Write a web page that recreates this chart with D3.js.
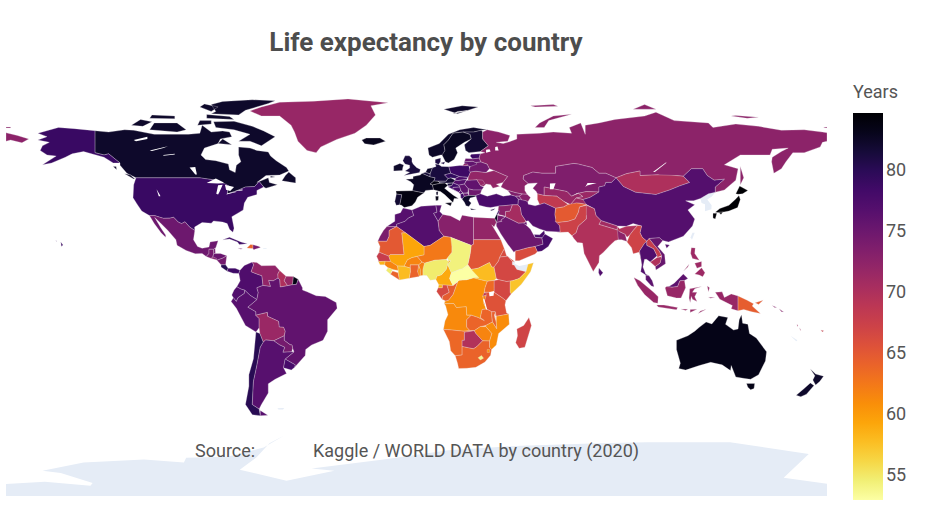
<!DOCTYPE html>
<html>
<head>
<meta charset="utf-8">
<script src="https://d3js.org/d3.v7.min.js"></script>
<style>
  body { margin: 0; background: #fff; }
  text { font-family: Roboto, sans-serif; }
</style>
</head>
<body>
<svg id="chart" width="934" height="528"></svg>
<script>
// life expectancy, grouped by region (names and years line up)
const americaNames = ["Canada", "United States", "Alaska", "Mexico", "Guatemala", "Belize", "Honduras", "El Salvador", "Nicaragua", "Costa Rica", "Panama", "Cuba", "Haiti", "Dominican Republic", "Jamaica", "Colombia", "Venezuela", "Guyana", "Suriname", "French Guiana", "Brazil", "Ecuador", "Peru", "Bolivia", "Paraguay", "Chile", "Argentina", "Uruguay", "Greenland"];
const americaYears = [82.3, 78.9, 78.9, 75, 74.3, 74.6, 75.3, 73.3, 74.5, 80.3, 78.5, 78.8, 64, 74.1, 74.5, 77.3, 72.1, 69.9, 71.7, 83.5, 75.9, 77, 76.7, 71.5, 74.3, 80.2, 76.7, 77.9, 71.7];

const europeNames = ["Iceland", "Norway", "Sweden", "Finland", "Denmark", "United Kingdom", "Ireland", "France", "Spain", "Portugal", "Belgium", "Netherlands", "Germany", "Switzerland", "Austria", "Italy", "Poland", "Czechia", "Slovakia", "Hungary", "Romania", "Bulgaria", "Slovenia", "Croatia", "Bosnia", "Serbia", "Montenegro", "Albania", "North Macedonia", "Greece", "Cyprus", "Ukraine", "Moldova", "Belarus", "Lithuania", "Latvia", "Estonia", "Russia"];
const europeYears = [83, 82.4, 82.8, 81.9, 81, 81.3, 82.3, 82.7, 83.6, 81.9, 81.6, 82.3, 81.3, 83.8, 81.7, 83.5, 78.7, 79.4, 77.5, 76.9, 75.9, 75, 81.3, 78.5, 77.4, 76, 77, 78.6, 75.8, 82.2, 81, 72, 71.9, 74.8, 75.9, 75.3, 78.7, 72.6];

const asiaNames = ["Turkey", "Georgia", "Armenia", "Azerbaijan", "Kazakhstan", "Uzbekistan", "Turkmenistan", "Kyrgyzstan", "Tajikistan", "Mongolia", "China", "Japan", "Iran", "Iraq", "Syria", "Israel", "Jordan", "Lebanon", "Saudi Arabia", "Kuwait", "United Arab Emirates", "Oman", "Yemen", "Afghanistan", "Pakistan", "India", "Nepal", "Bangladesh", "Sri Lanka", "Myanmar", "Thailand", "Laos", "Vietnam", "Cambodia", "Malaysia", "Indonesia", "Philippines"];
const asiaYears = [77.7, 73.6, 75.1, 73, 73.6, 71.7, 68.2, 71.5, 71.1, 69.9, 76.9, 84.6, 76.7, 70.6, 72.7, 83, 74.5, 78.9, 75.1, 75.5, 78, 77.9, 66.1, 64.8, 67.3, 69.7, 70.8, 72.6, 77, 67.1, 77.2, 67.9, 75.4, 69.8, 76.2, 71.7, 71.2];

const africaNames = ["Morocco", "Western Sahara", "Algeria", "Tunisia", "Libya", "Egypt", "Sudan", "South Sudan", "Eritrea", "Ethiopia", "Somalia", "Kenya", "Uganda", "Tanzania", "Rwanda", "Burundi", "DR Congo", "Congo", "Gabon", "Equatorial Guinea", "Cameroon", "Central African Republic", "Chad", "Niger", "Nigeria", "Benin", "Togo", "Ghana", "Burkina Faso", "Mali", "Mauritania", "Senegal", "Guinea-Bissau", "Guinea", "Sierra Leone", "Liberia", "Ivory Coast", "Angola", "Zambia", "Malawi", "Mozambique", "Zimbabwe", "Namibia", "Botswana", "South Africa", "Lesotho", "Eswatini", "Madagascar"];
const africaYears = [76.7, 74, 76.9, 76.7, 72.9, 72, 65.3, 57.9, 66.3, 66.6, 57.4, 66.7, 63.4, 65.5, 69, 61.6, 60.7, 64.6, 66.5, 58.7, 58.9, 52.9, 54.2, 62.4, 54.7, 61.8, 61, 64.1, 61.6, 59.3, 64.9, 67.9, 58.3, 61.6, 54.7, 64.1, 57.8, 61.2, 63.9, 64.3, 60.9, 61.5, 63.7, 69.6, 64.1, 53.7, 60.2, 67];

const oceaniaNames = ["Australia", "New Zealand", "Papua New Guinea", "Solomon Islands", "Vanuatu", "Fiji"];
const oceaniaYears = [83.4, 82.3, 64.5, 73, 70.5, 67.5];

// no data in the source, left in the land colour
const noDataNames = ["Antarctica", "Korea", "Taiwan", "Somaliland", "Djibouti", "Falkland Islands", "Puerto Rico", "New Caledonia"];

const tickValues = [55, 60, 65, 70, 75, 80];
const colorRange = [52.95, 84.67];

// country outlines, lon,lat pairs, "|" starts another ring
const outlines = {
  "Canada": "-141,69.6 -135,69 -128,70 -124,69.8 -115,68 -108,68 -100,68 -95,68.5 -94,72 -90,69 -85,69.5 -82,69 -81,67 -86,66 -87,64 -93,62 -94.5,59 -92.5,57 -88,56.5 -82.5,55 -82,52.5 -79.5,51.3 -79,54.5 -77,56 -78,59 -78,62.5 -73,62 -70,61 -65,60.3 -64,58.5 -61.5,56.5 -57,53.5 -56,52 -60,50.2 -66,50 -70,47 -65,49 -64.5,47 -61,46 -66,44.5 -67,45 -69,47.4 -71,45.2 -75,45 -79,43.3 -83,42 -82.5,45.5 -88,48 -95,49 -123,49 -127,51 -130,54.5 -130,55.5 -135,59.5 -137,59 -141,60|-62,67 -68,63 -73,65 -78,65 -73,68 -80,70 -88,71 -89,73.5 -80,73.7 -72,71.5 -67,69.5|-117,70 -105,69 -101,70 -105,73 -115,73|-125,72 -120,71.5 -116,73.5 -121,74.5|-90,77 -78,76.5 -75,78.5 -65,81.5 -62,82.7 -72,83.1 -85,82.4 -90,81 -88,78|-92,75 -80,74.5 -82,75.8 -92,76.7|-95,80 -90,78 -87,80 -93,81.3|-117,75 -106,74.8 -106,76 -116,76.5|-96,72 -90,72.5 -90,74 -95,74|-59,47.7 -53,46.7 -53,49 -56,51.5 -57.5,50|-87,64 -81,63.5 -85,66|-128,50.8 -124,48.5 -123.5,48.5 -125.5,50.3|-64,49.8 -62,49.4 -64,49.2|-133,54 -131.7,54 -131.5,52.5",
  "United States": "-123,49 -95,49 -88,48 -83,46 -82.5,45.5 -83,42 -79,43.3 -75,45 -71,45.2 -69,47.4 -67,45 -70,43.5 -70,41.7 -74,40.5 -75.5,38 -76,35 -78,33.8 -81,32 -80,27 -80.5,25.2 -82,26.5 -83,29 -85,29.7 -89,30.2 -90,29.2 -94,29.5 -97.3,27.5 -97.2,26 -99.5,27.5 -101.5,29.8 -103,29 -104.5,29.7 -106.5,31.8 -108.2,31.4 -111,31.3 -114.8,32.5 -117.1,32.5 -120.5,34.5 -122.5,37.5 -124.3,40.3 -124,46|-156,21 -155,19.7 -155.7,19|-158.2,21.6 -157.7,21.3 -158,21.3",
  "Alaska": "-141,69.6 -141,60 -137,59 -135,59.5 -130,55.5 -133,55.5 -137,58 -146,60.5 -151,59.5 -154,58 -160,55.5 -164,54.7 -158,58.5 -162,59 -165,61 -164,63 -161,64.5 -166,65.5 -162,67 -166,68.5 -157,71 -150,70.5",
  "Mexico": "-117.1,32.5 -114.8,32.5 -111,31.3 -108.2,31.4 -106.5,31.8 -104.5,29.7 -103,29 -101.5,29.8 -99.5,27.5 -97.2,26 -97.8,22 -96,19 -94,18.2 -91,18.8 -90.5,21 -87,21.5 -88,18.5 -89,17.8 -91,17.8 -91,16 -92.2,14.6 -94,16 -97,15.8 -101,17.3 -105,19.5 -105.5,22 -109,26 -112.5,29.5 -114.8,31.7 -112,27 -110,24 -110,23 -112,25 -115,29",
  "Guatemala": "-92.2,14.6 -91,16 -91,17.8 -89,17.8 -88.9,15.9 -89.3,14.5 -90,13.8",
  "Belize": "-89,17.8 -88.3,18.4 -88.2,16 -88.9,15.9",
  "Honduras": "-88.9,15.9 -86,16 -83.2,15 -84.8,14 -87.5,13 -89.3,14.5",
  "El Salvador": "-89.3,14.5 -87.7,13.8 -87.8,13.2 -90,13.8",
  "Nicaragua": "-83.2,15 -83.7,11 -85.7,11 -87.5,13 -84.8,14",
  "Costa Rica": "-85.7,11 -83.7,11 -82.6,9.5 -83,8.2 -85.7,10",
  "Panama": "-83,8.2 -82.6,9.5 -79.5,9.5 -77.4,8.6 -77.9,7.2 -80.4,7.3",
  "Cuba": "-85,21.9 -82,23.1 -77,21 -74.2,20.2 -77.7,19.9 -78.5,21 -82,22.3",
  "Haiti": "-74.4,18.3 -72.8,19.9 -71.7,19.8 -71.7,18.1",
  "Dominican Republic": "-71.7,19.8 -69,19 -68.4,18.6 -71.4,17.6 -71.7,18.1",
  "Jamaica": "-78.3,18.3 -76.3,18 -77,17.8",
  "Puerto Rico": "-67.2,18.4 -65.7,18.4 -65.8,18 -67.2,18",
  "Colombia": "-77.4,8.6 -75.5,10.7 -72,12.2 -71.4,11 -72.5,8 -70,7 -67.8,6.2 -67.5,3.8 -67.3,2 -70,1 -69.4,-1.1 -70,-4.2 -73,-2.3 -75.3,-0.1 -77,0.4 -78.8,1.4 -77.3,4 -77.9,7.2",
  "Venezuela": "-71.4,11 -72,12.2 -70,12 -68,10.6 -62,10.7 -60,8.5 -60.8,7 -60.7,5.2 -62.8,4 -64.8,4.2 -64,1.5 -67.3,2 -67.5,3.8 -67.8,6.2 -70,7 -72.5,8",
  "Guyana": "-60,8.5 -57.2,6 -58,4 -56.5,1.9 -59.8,1.3 -60,4.5 -60.7,5.2 -60.8,7",
  "Suriname": "-57.2,6 -54,5.9 -54.2,3.5 -54.5,2.3 -56.5,1.9 -58,4",
  "French Guiana": "-54,5.9 -51.9,4.7 -52.6,2.5 -54.5,2.3 -54.2,3.5",
  "Brazil": "-51.9,4.7 -50,1 -50,0 -48,-0.8 -44,-2.5 -40,-2.8 -35.2,-5.5 -34.8,-8 -39,-13 -39,-18 -41,-22 -46,-24 -48.6,-26 -48.8,-28.6 -53.4,-33.7 -53.2,-32.7 -57.6,-30.2 -53.7,-27 -54.3,-25.5 -54.6,-24 -55.4,-23.9 -58,-22 -58,-20 -57.6,-18 -58.3,-16.3 -60.2,-16.2 -60.5,-13.7 -65.3,-11.5 -65.4,-9.8 -70.5,-11 -70.5,-9.5 -74,-7.5 -70,-4.2 -69.4,-1.1 -70,1 -67.3,2 -64,1.5 -64.8,4.2 -62.8,4 -60.7,5.2 -60,4.5 -59.8,1.3 -56.5,1.9 -54.5,2.3 -52.6,2.5",
  "Ecuador": "-78.8,1.4 -77,0.4 -75.3,-0.1 -75.5,-1.5 -78.3,-3.4 -79,-5 -80.3,-3.4 -81,-2.2 -80,0",
  "Peru": "-75.3,-0.1 -73,-2.3 -70,-4.2 -74,-7.5 -70.5,-9.5 -70.5,-11 -69,-12.5 -69,-16.5 -70.4,-18.3 -75,-15.5 -79,-8 -81.3,-5 -80.3,-3.4 -79,-5 -78.3,-3.4 -75.5,-1.5",
  "Bolivia": "-69,-12.5 -70.5,-11 -65.4,-9.8 -65.3,-11.5 -60.5,-13.7 -60.2,-16.2 -58.3,-16.3 -57.6,-18 -58,-20 -62.6,-22.2 -66.2,-21.8 -67.2,-22.8 -68.7,-19 -69,-16.5",
  "Paraguay": "-58,-20 -58,-22 -55.4,-23.9 -54.6,-24 -54.3,-25.5 -54.7,-27 -58.6,-27.2 -57.8,-25 -60,-24 -62.6,-22.2",
  "Chile": "-70.4,-18.3 -68.7,-19 -67.2,-22.8 -68.5,-25 -70,-33 -71.5,-40 -72,-50 -69,-52 -68.5,-54.9 -72,-54.5 -75,-50 -73.5,-42 -73.5,-37 -71.5,-30",
  "Argentina": "-66.2,-21.8 -62.6,-22.2 -60,-24 -57.8,-25 -58.6,-27.2 -54.7,-27 -53.7,-27 -57.6,-30.2 -58.3,-34 -57,-36.5 -62,-39 -65,-41 -65,-45 -68,-50 -69,-52 -72,-50 -71.5,-40 -70,-33 -68.5,-25 -67.2,-22.8|-68.5,-52.6 -65.2,-54.7 -68.5,-54.9",
  "Uruguay": "-57.6,-30.2 -53.2,-32.7 -53.4,-33.7 -54.9,-35 -58.3,-34",
  "Falkland Islands": "-61,-51.7 -58,-51.5 -58.5,-52.2 -60.5,-52.2",
  "Greenland": "-73,78.2 -68,80 -60,82 -45,82.5 -30,83.5 -12.5,81.8 -20,80.5 -18,76.5 -22,72 -27,68.5 -35,65.8 -42,62.5 -44,60 -48,61 -52,65 -53.5,69 -55,72 -60,76 -68,76",
  "Iceland": "-24,65.5 -22,66.4 -16,66.4 -13.6,65 -18.8,63.4 -22.7,63.9",
  "Norway": "5,62 5.5,59 7,58 10.5,59 11.5,59 12.5,61 12,63.5 14,65.5 16,68.5 20,69 25,69 28.5,69.8 31,70 25,71 19,70 14,68 10,64|12,79 20,80.5 27,80 18,77|16,77 23,78.5 18,78",
  "Sweden": "11.2,59 12.7,56 14,55.5 16.5,57 18,60 17.2,62 21,64.5 24,66 23.5,68 20.5,69 16,68.5 14,65.5 12,63.5 12.5,61",
  "Finland": "23,60 28,60.5 31.5,63 29,66 29,69 28.5,69.8 25,69 20.5,69 23.5,68 24,66 21,63.5 21.5,61",
  "Denmark": "8.2,55.5 8.2,57 10.6,57.7 10.5,56 9.7,54.8|10.5,55.5 12.5,56 12,54.9",
  "United Kingdom": "-5.5,50 1.3,51.3 1.7,52.7 0,53.5 -1.5,55 -2,56 -2,57.6 -3.2,58.6 -5,58.6 -6,56.5 -5,55 -3,54.5 -3,53.3 -5,52 -3,51.4",
  "Ireland": "-10,52 -6.2,52.2 -6,53.5 -5.6,54.6 -7.3,55.3 -10,54.2",
  "France": "-1.8,43.4 3.2,42.4 4,43.5 7.5,43.8 7,45.9 6,46.3 7.6,47.6 8.2,49 5.9,49.5 2.5,51 1.6,50.2 -1.5,49.6 -1.5,48.6 -4.7,48.4 -2.5,47.3 -1.2,46|8.6,42.8 9.5,43 9.3,41.4 8.7,41.6",
  "Spain": "-9,43.2 -1.8,43.4 3.2,42.4 0.5,40.5 -0.5,38.5 -2,36.8 -5.4,36 -6.5,37 -7.4,37.2 -7,39 -6.5,41.6 -8.8,41.9",
  "Portugal": "-8.8,41.9 -6.5,41.6 -7,39 -7.4,37.2 -8.9,37 -9.5,38.7",
  "Belgium": "2.5,51 4,51.4 6,50.8 5.9,49.5",
  "Netherlands": "4,51.4 4.8,53 7,53.4 6,50.8",
  "Germany": "7,53.4 8.6,54 8.2,55 9.7,54.8 11,54 14.2,53.9 15,51 12.3,50.3 13.8,48.7 13,47.5 7.6,47.6 8.2,49 5.9,49.5 6,50.8",
  "Switzerland": "6,46.3 7,45.9 10.4,46.6 9.5,47.5 7.6,47.6",
  "Austria": "9.5,47.5 10.4,46.9 12.5,46.7 16,46.8 17,48 15,49 13.8,48.7 13,47.5",
  "Italy": "7,45.9 7.5,43.8 10.5,43 12.3,41.7 16,38.2 16.5,40 18.4,40 16,41.5 13.5,43.5 12.3,44.5 13.7,45.7 12.5,46.7 10.4,46.6|12.5,38 15.5,38.2 15,36.7|8.3,41 9.7,41 9.5,39.2 8.5,39",
  "Poland": "14.2,53.9 19,54.4 23,54.3 23.7,51.6 22.7,49.2 19,49.5 15,51",
  "Czechia": "12.3,50.3 15,51 18.8,49.6 17,48.7 15,49 13.8,48.7",
  "Slovakia": "17,48.7 18.8,49.6 19,49.5 22.5,49.2 22,48.3 18,47.8 17,48",
  "Hungary": "16,46.8 17,48 18,47.8 22,48.3 21,46.3 18.5,45.8",
  "Romania": "21,46.3 22,48 26.5,48.2 28.2,45.5 29.5,45 28.6,43.7 25,43.7 22.7,44.2",
  "Bulgaria": "22.7,44.2 25,43.7 28.6,43.7 28,42 26,41.3 23,41.3",
  "Slovenia": "13.7,45.6 13.5,46.5 16,46.8 15.5,45.6",
  "Croatia": "13.7,45.1 15.5,45.6 16,46.7 18.5,45.8 19,45 16,44.8 16,44 18.5,42.5 15,44.5",
  "Bosnia": "16,44.8 19,45 19.4,43.5 18.5,42.7 16,44",
  "Serbia": "19,45 18.5,45.8 21,46.3 22.7,44.2 22.5,42.5 20.5,42.3 19.4,43.5",
  "Montenegro": "18.5,42.5 19.4,43.5 20.2,42.5 19.3,41.9",
  "Albania": "19.3,41.9 20.5,42.3 21,40.7 20,39.7 19.4,40.5",
  "North Macedonia": "20.5,42.3 22.5,42.3 23,41.3 21,40.9",
  "Greece": "20,39.7 21,40.9 23,41.3 26,41.3 26,40.8 23.5,40.2 23,39 24,38 23,36.5 21.7,36.8 21,38.3|23.6,35.6 26.2,35.2 24,35",
  "Cyprus": "32.4,35 34.5,35.6 33.8,34.9 32.8,34.6",
  "Ukraine": "23.7,51.6 26,51.9 30.5,51.3 34,52.2 40,49.6 38,47 35,46.2 36.5,45.3 33.5,44.5 32.5,46 30.5,46.3 29.5,45.3 28.2,45.5 26.5,48.2 22.5,48 22.7,49.2",
  "Moldova": "26.5,48.2 29,48 30,46.5 28.2,45.5",
  "Belarus": "23.5,53.9 26,55.7 28.2,56 31,55 32,53 30.5,51.3 26,51.9 23.7,51.6 23,52",
  "Lithuania": "21,56 24.5,56.3 26,55.7 26.5,55 23.5,53.9 21,55.2",
  "Latvia": "21,56 21.5,57.5 24.5,57.3 27.5,57.7 28.2,56 26,55.7 24.5,56.3",
  "Estonia": "23.5,58.5 24,59.3 28,59.5 27.5,57.7 24.5,57.3",
  "Russia": "38,47 40,49.6 34,52.2 32,53 31,55 28.2,56 27.5,57.7 28,59.5 30,60 28,60.5 31.5,63 29,66 29,69 31,70 36,69 41,67.5 40,65 35,64.5 38,64 40,64.5 44,66 44,68 54,68.5 60,69 68,68.5 67,71 72,73 74,68 74,72 80,73 87,74.5 100,76 105,77.7 113,74 128,73 130,71 140,72.5 150,71.5 160,69.8 170,70 178,69 180,68.7 180,65 178,64.5 177,62.5 170,60 165,60 163.5,58 162,56 160,53 156.7,51 155.7,56 156,58 160,60.5 163,62 156,61.5 155,59 142,59 135,54.7 141,53 140,48 135,43.7 131,42.7 131,45 135,48.4 130.5,48 127.5,50 125.5,53 120.5,53 117,49.7 114,50 108,49.5 106,50.3 98,50 98,52 92,50.8 87.5,49 83,51 80,51 77,53.5 71,55 69,55.3 61,54 61,51 55,51 51,51.5 47,50 46.8,48.5 49,46.5 47.5,45.5 47.5,43.5 48.5,41.8 46.5,41.9 43.5,42.5 40,43.5 37,45|-180,68.7 -175,67.5 -170,66 -173,64.3 -178,65.5 -180,65|52,71 56,71 58,74 68,76.8 60,76 54,73|95,79 105,79 100,81|50,80.5 60,81 62,80.3 52,80|142,54 143.5,49 142,46 142,50|20,54.3 22.5,54.4 22.5,55 21,55.2|138,76 145,75 150,75.5 140,76.2|178.5,71 180,71.2 180,70.8 179,70.8|-180,71.2 -178,71.2 -178,70.8 -180,70.8",
  "Turkey": "26,41.3 28,42 31,41 35,42 38,41 41.5,41.5 43.5,41 44.7,39.7 44.5,37.2 42,37.2 38,36.8 36,36.7 35.5,36.6 32.5,36 30.5,36.3 27.5,37 26.5,39.5",
  "Georgia": "40,43.5 43.5,42.5 46.5,41.9 45,41 43.5,41 41.5,41.5",
  "Armenia": "43.5,41 45,41 46.5,39 44.7,39.7",
  "Azerbaijan": "45,41 46.5,41.9 48.5,41.8 50,40.4 48.8,38.4 48,39 46.5,39",
  "Kazakhstan": "47,50 51,51.5 55,51 61,51 61,54 69,55.3 71,55 77,53.5 80,51 83,51 87.5,49 85.5,47 83,47 82.5,45.5 80,45 80,42.8 74.5,43 70,42 68,41 66,43 61,44 56,45 56,41.3 53,42 52.5,43 51,44.5 53,46.8 49,46.5 46.8,48.5",
  "Uzbekistan": "56,45 61,44 66,43 68,41 71,42.3 73,40.8 70,40.2 67.5,37.3 64.5,38.8 61.5,41 56,41.3",
  "Turkmenistan": "53,42 56,41.3 61.5,41 64.5,38.8 66.5,37.4 64.5,36.3 61,35.7 56,38 54,37.3 53,39.5",
  "Kyrgyzstan": "70,42 74.5,43 80,42.8 76,40.4 73,39.5 70,40.2 73,40.8 71,42.3",
  "Tajikistan": "67.5,37.3 70,40.2 73,39.5 75,38.5 74.8,37.3 71.5,37.9 70,38 68,37",
  "Mongolia": "87.5,49 92,50.8 98,52 98,50 106,50.3 114,50 117,49.7 119.8,47 115.5,45.5 111,43.7 105,41.7 96,42.7 90.7,45.2",
  "China": "73,39.5 76,40.4 80,42.8 80,45 82.5,45.5 83,47 85.5,47 87.5,49 90.7,45.2 96,42.7 105,41.7 111,43.7 115.5,45.5 119.8,47 117,49.7 120.5,53 125.5,53 127.5,50 130.5,48 135,48.4 131,45 131,42.7 128,42 124.5,40 121.5,39 118,39 122,37.2 119,35 122,31 121,28 117,23.5 110.5,21 108,21.6 106.5,22.8 102,22.5 101,21.3 99,23 98,25 98.7,28 95,29 92,27.8 88,28 81,30.3 78.7,32.5 78,35.5 74.5,37.3|109,20 111,19.7 109.7,18.2",
  "Korea": "124.5,40 128,42 131,42.7 129.5,40.8 127.5,39.5 129.4,37 129.3,35.3 126.5,34.4 126.5,37.5 125,38",
  "Taiwan": "121,25 122,25 120.8,22 120.2,23",
  "Japan": "131,34 133,35.6 137,37 140,39.8 141.4,41.3 142,39.5 140.8,36 137,34.5 133,33.7|140,42 141.7,45.4 145.3,43.5 143,42 141,41.8|130,33.5 131.7,33.5 131,31 130,31.5|132.5,34 134.5,34.2 133.5,33",
  "Iran": "44.7,39.7 48,39 48.8,38.4 49,37.5 52,36.8 54,37.3 56,38 61,35.7 60.7,33 61,31.3 62.8,28 63,25.3 57,25.7 54,26.7 51,28 49,30.3 48,30 46,33 45.5,36 44.5,37.2",
  "Iraq": "42,37.2 44.5,37.2 45.5,36 46,33 48,30 47,29.3 44.7,29.2 39,32 39,34.3 41,34.5",
  "Syria": "36,36.7 38,36.8 42,37.2 41,34.5 39,34.3 39,32.2 36,33 35.8,35",
  "Israel": "34.3,31.3 35.1,33 35.6,33 35.5,31 35,29.5",
  "Jordan": "35.6,32.7 39,32 37,30.5 37.5,30 35,29.5 35.5,31",
  "Lebanon": "35.1,33 35.8,34.5 36.5,34.5 35.6,33",
  "Saudi Arabia": "35,29.5 37.5,30 37,30.5 39,32 44.7,29.2 47,29.3 48.5,28 50,26.5 51,24.7 52,23 55,22.7 55.5,20 52,19 49,18.5 45,17.4 43.3,17 42.7,16.5 40,20 37,24.5 35,28",
  "Kuwait": "47,29.3 48.2,29.8 48.5,28.5 47.5,28.6",
  "United Arab Emirates": "51.6,24.2 54,24.1 56,26 56.3,24.5 55.2,22.8 52,23",
  "Oman": "56.3,24.5 59.8,22.5 57.8,19 55,17 53,16.7 52,19 55.5,20 55,22.7",
  "Yemen": "43.3,12.8 45,12.8 52,15.7 53,16.7 52,19 49,18.5 45,17.4 43.3,17",
  "Afghanistan": "61,35.7 64.5,36.3 66.5,37.4 70,38 71.5,37.9 74.8,37.3 71.5,36.3 71,34 69.5,31 66.5,30 62,29.5 60.9,29.9 61,31.3 60.7,33",
  "Pakistan": "60.9,29.9 62,29.5 66.5,30 69.5,31 71,34 71.5,36.3 74.5,37 77.5,35.5 74.5,32.5 74.5,31 71,28 70,25 68.2,23.7 66.5,25.3 61.7,25.1 63,25.3 62.8,28",
  "India": "74.5,37 78,35.5 78.7,32.5 81,30.3 80,28.7 88,26.3 88,28 89,26.8 92,27.8 97,28.2 95,26 93.5,24 92.3,23 91.5,24.3 89,25.5 88.5,22 87,21.5 85,19.7 82,16.5 80.2,15 80,12 77.5,8.1 76,11 73.5,16 72.8,20.5 70.5,20.8 69,22.5 68.2,23.7 70,25 71,28 74.5,31 74.5,32.5",
  "Nepal": "80,28.7 81,30.3 88,28 88,26.3",
  "Bangladesh": "88,26.3 89,25.5 91.5,24.3 92.3,21.2 90,22 88.5,22",
  "Sri Lanka": "80,9.6 81.8,7.5 80.5,6 79.8,7.5",
  "Myanmar": "92.3,21 93.5,24 95,26 97,28.2 98.7,28 98,25 99,23 101,21.3 100,20.4 97.8,17 98.8,11 98.5,14 97.5,16.5 95,15.8 94.3,18.5",
  "Thailand": "100,20.4 101,21.3 101,19.5 104,18 105.5,15 102.5,12.2 100.9,13.4 100,13.4 99.3,10 100.5,7 102,6.2 100.5,6.5 98.3,8 98.8,11 97.8,17",
  "Laos": "101,21.3 102,22.5 104,20 106.5,17 107.5,15 105.5,14.2 105.5,15 104,18 101,19.5",
  "Vietnam": "102,22.5 106.5,22.8 108,21.6 105.8,19 108.8,15.5 109.2,11.5 105,8.7 104.7,10.3 106.8,11.8 107.5,15 106.5,17 104,20",
  "Cambodia": "102.5,12.2 105.5,14.2 107.5,14.5 106.8,11.8 104.7,10.3",
  "Malaysia": "100.5,6.5 102,6.2 103.4,4 104.2,1.4 103,1.7 100.5,4.5|109.7,1.5 111,1.7 113,3 117,7 119,5 117.5,4.2 115.5,4 114.5,1.5 112,1.2",
  "Indonesia": "109,1 109.7,1.5 112,1.2 114.5,1.5 115.5,4 117.5,4.2 118,1 116,-3.5 114,-3.5 110,-2.5|95.3,5.5 98,4 104,-1 106,-3 105.8,-5.8 104,-5.5 100,-2 97,2|105.3,-6.5 108.5,-6.6 114.5,-7.7 114,-8.6 106,-7.4|119.8,0.5 125,1.5 122,0.5 121,-1 123,-1 122,-3 123,-5 121,-4 120.5,-2.8 120,-5.5 119.5,-3.5|131,-1 134,-0.8 135,-3.3 138,-1.7 141,-2.6 141,-9.1 138,-8.2 138.5,-6.8 133,-4|116,-8.3 119,-8.4 118,-9|120,-8.5 123,-8.4 120,-9.8|123.5,-10.3 127,-8.4 124.5,-9.2|127.5,1.8 128.5,1 128,-0.8|128,-3.2 130.8,-3.2 129,-3.6",
  "Philippines": "120.5,18.5 122.2,18.4 122,16 124,13 121,13.8 120.2,16|122,7 125,9.7 126.5,7.5 125.5,5.8 124,6.5|122,11.7 125,12.5 125,10.3 123,9.5|117.2,8.4 119.5,11.3 119,10",
  "Australia": "114,-22 114,-26 115.7,-32 115,-34.3 118,-35 124,-33 129,-31.6 134,-32.7 137.7,-35.2 138,-33 140,-38 144,-38.7 146.5,-39 150,-37 153,-31 153.5,-27 149,-21 146,-19 145.3,-15 143,-14.5 142.5,-10.8 141.5,-13 141,-17 139,-17.5 135.5,-15 136.5,-12 132.5,-11.3 129.5,-14.8 127,-14 124,-16.3 122,-18 119,-20|144.7,-40.8 148.3,-40.9 148,-43 146.5,-43.6 145.3,-42.5",
  "New Zealand": "172.7,-34.5 175,-36.7 178.5,-37.7 176.8,-40 175,-41.5 173.8,-39.3 174.7,-37.5|172.7,-40.6 174.3,-41.7 171,-45.5 168.5,-46.6 166.5,-46 170,-43",
  "Papua New Guinea": "141,-2.6 145,-4.5 147.8,-6 147.2,-7 150.8,-10.3 147,-9.5 143.5,-8.5 141,-9.1|148.5,-5.6 152,-4.5 150,-6.3",
  "Solomon Islands": "156,-6.8 158,-7.6 157,-7.6|159,-8.2 161,-9.6 160,-9.5",
  "Vanuatu": "166.8,-15 167.3,-15.6 167,-16|168,-16.5 168.5,-17.6 168.2,-17.6",
  "New Caledonia": "164,-20 167,-22 166.5,-22.4",
  "Fiji": "177.3,-17.5 178.6,-17.8 178,-18.3",
  "Morocco": "-5.9,35.8 -2,35 -1.2,32.5 -3.5,31.5 -5,30 -8.7,28.7 -8.7,27.7 -13,27.7 -9.5,30 -9.5,33 -7,33.8",
  "Western Sahara": "-13,27.7 -8.7,27.7 -12,26 -12,23.5 -13,21.3 -17,21.3 -16,23.5 -14.5,26",
  "Algeria": "-2,35 2,36.6 8.5,37 9,34 7.5,33.5 9.5,30 10,26 12,23.5 6,19.5 3.3,19 -4.8,25 -8.7,27.7 -8.7,28.7 -5,30 -3.5,31.5 -1.2,32.5",
  "Tunisia": "8.5,37 11,37 10.2,34.3 11.5,33 9.5,30 7.5,33.5 9,34",
  "Libya": "11.5,33 15,32.3 19,30.3 20,32.7 25,31.8 25,20 24,19.5 15,23 12,23.5 10,26 9.5,30",
  "Egypt": "25,31.8 31,31.5 34.3,31.3 35,29.5 34,27.5 33,28.5 37,22 25,22",
  "Sudan": "25,22 37,22 38.5,18 36.5,14.3 36,12.7 34,10 33,10 32,12 27,9.5 24,9 22.5,11 23.5,15.7 24,19.5 25,20",
  "South Sudan": "24,9 27,9.5 32,12 33,10 34,10 35,5 34,4.2 31,3.8 28,4.5 25,5.3",
  "Eritrea": "36.5,14.3 38.5,18 39.5,15 43,12.5 42,12.5 40,14.7 37.5,14.5",
  "Ethiopia": "36,12.7 36.5,14.3 37.5,14.5 40,14.7 42,12.5 42,11 42.8,10.9 44,9 48,8 45,5 42,4 39.5,3.7 36,4.5 35,5 34,10",
  "Djibouti": "42,12.5 43.3,12.5 43,11.5 42,11",
  "Somaliland": "43,11.5 45,10.5 48.9,11.3 48,8 44,9 42.8,10.9",
  "Somalia": "48.9,11.3 51.3,11.9 50,8 46,2.5 41.5,-1.7 41,-1 41,3.9 42,4 45,5 48,8",
  "Kenya": "34,4.2 36,4.5 39.5,3.7 41,3.9 41,-1 41.5,-1.7 39.2,-4.7 37.7,-3.5 34,-1 34,0.5",
  "Uganda": "31,3.8 34,4.2 34,0.5 34,-1 30,-1 29.6,-1.4 30,1",
  "Tanzania": "30,-1 34,-1 37.7,-3.5 39.2,-4.7 38.8,-6.5 39.5,-10 40.4,-10.5 35,-11.5 34.5,-9.5 33,-9.5 30.7,-8.3 29.5,-6 29.5,-4.5 30.5,-2.5",
  "DR Congo": "12.2,-6 12.4,-5 13,-4.7 14,-4.5 16,-2 18,3.5 18.6,4.3 22,4.5 25,5.3 28,4.5 31,3.8 30,1 29.6,-1.4 29,-2.7 29.4,-4.3 29.5,-6 30.7,-8.3 28.8,-8.5 28,-12 29.8,-13.4 27,-12 24,-11 22,-11 21.8,-7.3 17.5,-7.7 16.3,-5.9",
  "Rwanda": "29,-1.3 30.5,-1.2 30.5,-2.4 29,-2.7",
  "Burundi": "29,-2.7 30.5,-2.4 30,-4.4 29.4,-4.3",
  "Congo": "11.2,-4 12.8,-4.8 14,-4.5 16,-2 18,3.5 16,2 13.3,2.2 14.3,-1 11.5,-2.5",
  "Gabon": "8.8,-0.7 9.5,1 11.3,1 11.3,2.3 13.3,2.2 14.3,-1 11.5,-2.5 11.2,-4",
  "Equatorial Guinea": "9.5,1 11.3,1 11.3,2.3 9.8,2.3",
  "Cameroon": "8.5,4.6 9.8,2.3 13.3,2.2 16,2 14.5,5 15.3,7.5 13.7,11 15,12.8 14,13 14,12.5 13,9 11,6.7 8.8,6",
  "Central African Republic": "14.5,5 16,2 18.6,4.3 22,4.5 25,5.3 27.4,5.3 24,9 22.5,11 20,9.2 18.8,9 15.3,7.5",
  "Chad": "14,13 15,12.8 13.7,11 15.3,7.5 18.8,9 20,9.2 22.5,11 23.5,15.7 24,19.5 15,23 13.6,22.8 15.5,19 15.5,16.5 13.5,14",
  "Niger": "3.3,19 6,19.5 12,23.5 15,23 15.5,19 15.5,16.5 13.5,14 13,13.3 8,13 3.5,11.7 2.4,12.2 0.2,14.7 3.3,15.4",
  "Nigeria": "2.8,6.4 2.8,9 3.5,11.7 8,13 13,13.3 14,12.5 13,9 11,6.7 8.8,6 8.5,4.6 6,4.3 4.5,6.3",
  "Benin": "1.6,6.2 2.8,6.4 2.8,9 3.5,11.7 2.4,12.2 0.9,11 1.6,9",
  "Togo": "0.9,11 1.6,9 1.6,6.2 0.7,6 0.5,8",
  "Ghana": "-3.2,5.1 1.2,5.9 0.5,8 0.9,11 -2.8,11 -2.7,8",
  "Burkina Faso": "-5.5,10.4 -2.8,9.6 -2.8,11 0.9,11 2.4,12.2 0.2,14.7 -2,14.2 -4,13.2",
  "Mali": "-12.2,14.8 -11.4,12.2 -8.3,10.5 -5.5,10.4 -4,13.2 -2,14.2 0.2,14.7 3.3,15.4 3.3,19 -4.8,25 -6.5,25 -5.5,15.5 -11.5,15.5",
  "Mauritania": "-17,21.3 -13,21.3 -12,23.5 -12,26 -8.7,27.7 -4.8,25 -6.5,25 -5.5,15.5 -11.5,15.5 -12.2,14.8 -16.4,16.5 -16,19",
  "Senegal": "-17.5,14.7 -16.4,16.5 -12.2,14.8 -11.4,12.5 -16.7,12.4 -16.7,13",
  "Guinea-Bissau": "-16.7,12.4 -13.7,12.6 -14,11 -16,11",
  "Guinea": "-14,11 -13.7,12.6 -11.4,12.5 -8.3,10.5 -8,8.5 -10.5,9 -12.5,9.7",
  "Sierra Leone": "-13.3,8.5 -12.5,9.7 -10.5,9 -11.4,6.9",
  "Liberia": "-11.4,6.9 -10.5,8.3 -8,7.5 -7.5,4.4",
  "Ivory Coast": "-8,8.5 -8,7.5 -7.5,4.4 -3.2,5.1 -2.7,8 -2.8,9.6 -5.5,10.4 -8.3,10.5",
  "Angola": "12.2,-6 16.3,-5.9 17.5,-7.7 21.8,-7.3 22,-11 24,-11 22,-13 22,-16.2 23.4,-17.7 20.8,-18 13.5,-17.3 11.8,-17.3 12.5,-13.5 13.8,-10.8 12.8,-7",
  "Zambia": "22,-13 24,-11 27,-12 29.8,-13.4 28,-12 28.8,-8.5 30.7,-8.3 33,-9.5 33,-11 33.3,-14 30.4,-15.5 28,-16 25.3,-17.8 23.4,-17.7 22,-16.2",
  "Malawi": "33,-9.5 34.5,-9.5 35,-14.5 35.2,-17 33.3,-14 33,-11",
  "Mozambique": "40.4,-10.5 40.7,-15 36,-19 35,-24 32.9,-26 32,-25 32,-22.3 33,-19 30.4,-16 30.4,-15.5 33.3,-14 35.2,-17 35,-14.5 35,-11.5",
  "Zimbabwe": "25.3,-17.8 28,-16 30.4,-16 33,-19 32,-22.3 29,-22.2 26,-19",
  "Namibia": "11.8,-17.3 13.5,-17.3 20.8,-18 23.4,-17.7 25.3,-17.8 21,-18.5 21,-22 20,-22 20,-28.4 17,-28.7 15,-26.5 14.4,-22.5",
  "Botswana": "21,-18.5 25.3,-17.8 26,-19 29,-22.2 26.5,-24.7 25,-25.7 23,-25.3 20,-24.7 20,-22 21,-22",
  "South Africa": "17,-28.7 20,-28.4 20,-24.7 23,-25.3 25,-25.7 26.5,-24.7 29,-22.2 32,-22.3 32,-25 32.9,-26 32.5,-28.5 30,-31.5 26,-33.8 22,-34.2 18.5,-34.3 18,-32",
  "Lesotho": "27,-29.6 28.5,-28.6 29.4,-29.8 28,-30.6",
  "Eswatini": "31,-26 32,-26 32,-27.3 31,-27.3",
  "Madagascar": "49.3,-12 50.4,-15.5 47.5,-25 45,-25.5 43.5,-23 44.3,-20 44,-17 47,-15.5",
  "Antarctica": "-180,-84.8 -163,-83.8 -143,-85.5 -142,-84.3 -156,-80 -164,-79 -146,-75.4 -119.5,-74 -102,-75.4 -101,-73.3 -83,-72.8 -67,-68.8 -58,-63.6 -64.5,-67 -70,-73 -77.5,-78.5 -57,-83.3 -36,-79 -46,-78 -14.5,-74 14,-70 46,-68 80,-67 101,-66.5 137.5,-66.5 172,-71.6 161,-82 180,-84.7 180,-90 -180,-90"
};

// lakes are cut out on top of the countries
const lakes = [
  "-92,46.7 -88,48.7 -84.5,47 -85,46.6 -87,46.5",
  "-87.8,42 -87,45.8 -85,46 -86.3,43 -87,41.7",
  "-84,46 -80,45 -81.7,43.2 -83.5,43.8",
  "-83.4,41.7 -79,42.8 -79,43 -83,42.2",
  "-79.5,43.3 -76.3,44 -76.3,43.5 -79,43.2",
  "-117,61 -109,62.8 -111,62 -116,60.7",
  "-124,65.5 -118,67 -118,66 -123,65",
  "-111,59 -106,59.5 -106,59.2 -111,58.7",
  "-99.5,53.5 -97,53.7 -96.3,50.5 -97,50.5",
  "-114,44 -112.5,41.5 -112.3,41 -113,41",
  "31.8,-1 34,-0.4 33.8,-2.5 32,-2.7",
  "29.2,-4 29.8,-4 31,-8.5 30.5,-8.5",
  "34,-10 34.7,-11.5 34.7,-14 34.3,-12",
  "103.7,51.6 104.5,51.5 109.5,55.5 109.5,55.8",
  "74,45 75,46.7 79,46.8 74.8,45.7",
  "58.5,46.5 61,46.6 60,44 58.5,44",
  "30.5,60 32.5,60.5 32,61.5 30.5,61.3",
  "34.5,61 36,61 35.5,62.7 34.5,62.5"
];

const mapLeft = 6, mapRight = 827, mapTop = 84, mapBottom = 496;
const barLeft = 853, barWidth = 30, barTop = 113, barBottom = 500;

const svg = d3.select("#chart");

const lon = d3.scaleLinear().domain([-180, 180]).range([mapLeft, mapRight]);
const lat = d3.scaleLinear().domain([90, -90]).range([mapTop, mapBottom]);

// inferno, reversed so the long lives are dark
const color = d3.scaleSequential(t => d3.interpolateInferno(1 - t)).domain(colorRange);

const line = d3.line().x(d => lon(d[0])).y(d => lat(d[1])).curve(d3.curveLinearClosed);

const parseRings = str => str.split("|").map(ring => ring.split(" ").map(p => p.split(",").map(Number)));
const ringsPath = str => parseRings(str).map(r => line(r)).join("");

const names = [...noDataNames, ...americaNames, ...europeNames, ...asiaNames, ...africaNames, ...oceaniaNames];
const years = [...noDataNames.map(() => null), ...americaYears, ...europeYears, ...asiaYears, ...africaYears, ...oceaniaYears];
const countries = names.map((name, i) => ({ name, value: years[i] }));

svg.append("clipPath").attr("id", "map-clip")
  .append("rect")
  .attr("x", mapLeft).attr("y", mapTop)
  .attr("width", mapRight - mapLeft).attr("height", mapBottom - mapTop);

const map = svg.append("g").attr("clip-path", "url(#map-clip)");

map.selectAll("path.country")
  .data(countries)
  .enter()
  .append("path")
  .attr("class", "country")
  .attr("d", d => ringsPath(outlines[d.name]))
  .attr("fill", d => d.value === null ? "#e5ecf6" : color(d.value))
  .attr("stroke", d => d.value === null ? "none" : "#e8e4ea")
  .attr("stroke-opacity", 0.55)
  .attr("stroke-width", 0.5)
  .append("title").text(d => d.name);

map.selectAll("path.lake")
  .data(lakes)
  .enter()
  .append("path")
  .attr("class", "lake")
  .attr("d", ringsPath)
  .attr("fill", "#fff");

// title and source
svg.append("text")
  .attr("x", 426).attr("y", 51)
  .attr("text-anchor", "middle")
  .attr("font-size", 26).attr("font-weight", 700)
  .attr("fill", "#4d4d4d")
  .text("Life expectancy by country");

svg.append("text")
  .attr("x", 195).attr("y", 457)
  .attr("font-size", 18).attr("fill", "#555")
  .text("Source:");

svg.append("text")
  .attr("x", 313).attr("y", 457)
  .attr("font-size", 18).attr("fill", "#555")
  .text("Kaggle / WORLD DATA by country (2020)");

// colour bar
const barScale = d3.scaleLinear().domain(colorRange).range([barBottom, barTop]);

const gradient = svg.append("linearGradient")
  .attr("id", "bar-gradient")
  .attr("x1", 0).attr("y1", 1).attr("x2", 0).attr("y2", 0);

gradient.selectAll("stop")
  .data(d3.range(0, 1.001, 0.05))
  .enter()
  .append("stop")
  .attr("offset", d => d)
  .attr("stop-color", d => color(colorRange[0] + d * (colorRange[1] - colorRange[0])));

svg.append("rect")
  .attr("x", barLeft).attr("y", barTop)
  .attr("width", barWidth).attr("height", barBottom - barTop)
  .attr("fill", "url(#bar-gradient)");

const barAxis = svg.append("g")
  .attr("transform", `translate(${barLeft + barWidth},0)`)
  .call(d3.axisRight(barScale).tickValues(tickValues).tickSize(0).tickPadding(3));

barAxis.select(".domain").remove();
barAxis.selectAll("text")
  .attr("font-family", "Roboto, sans-serif")
  .attr("font-size", 18)
  .attr("fill", "#555");

svg.append("text")
  .attr("x", barLeft).attr("y", 98)
  .attr("font-size", 18).attr("fill", "#555")
  .text("Years");
</script>
</body>
</html>
